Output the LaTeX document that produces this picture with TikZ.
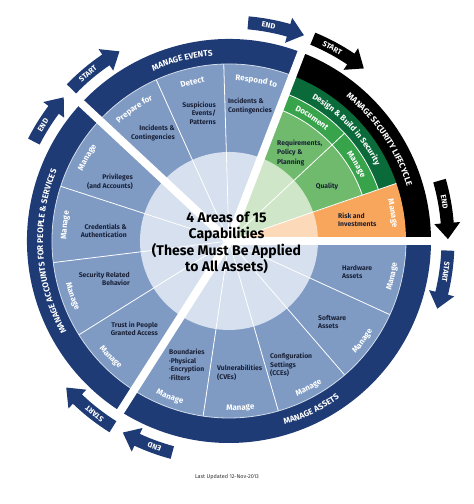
\documentclass[tikz,border=0pt]{standalone}
\usepackage{fontspec}
\setmainfont{Fira Sans}
\usetikzlibrary{decorations.text}

\definecolor{ringblue}{HTML}{1F3B75}
\definecolor{wedgeblue}{HTML}{7F9BC4}
\definecolor{centreblue}{HTML}{D6E0EE}
\definecolor{darkgreen}{HTML}{0B6A3A}
\definecolor{midgreen}{HTML}{37A34A}
\definecolor{wedgegreen}{HTML}{6FBA6C}
\definecolor{centregreen}{HTML}{CFE6C8}
\definecolor{riskorange}{HTML}{F8A65B}
\definecolor{centreorange}{HTML}{FCD9B8}
\definecolor{labelink}{HTML}{1B2238}

\newcommand\ringfont{\fontsize{8.3}{9}\selectfont\bfseries}
\newcommand\bandfont{\fontsize{8}{9}\selectfont\bfseries}

\begin{document}
\begin{tikzpicture}[%
x=1pt, y=1pt,
wedgetext/.style={font=\fontsize{6.8}{8.5}\selectfont\bfseries, text=labelink, inner sep=0pt},
arrowtext/.style={font=\fontsize{7.5}{8}\selectfont\bfseries, text=white, inner sep=0pt},
arclabel/.style={decorate, decoration={text along path, text align=center, text color=white}},
gap/.style={white, line width=8pt},
divider/.style={white, line width=0.8pt},
rim/.style={white!65!wedgeblue, line width=0.8pt},
]
\useasboundingbox (-229,-263) rectangle (245,241);
%% outer rings;
\fill [black] (0,0) -- (0:202) arc[start angle=0, end angle=69, radius=202] -- cycle;
\fill [ringblue] (0,0) -- (69:202) arc[start angle=69, end angle=360, radius=202] -- cycle;
%% blue wedges;
\fill [wedgeblue] (0,0) -- (69:177) arc[start angle=69, end angle=360, radius=177] -- cycle;
%% risk wedge;
\fill [riskorange] (0,0) -- (0:177) arc[start angle=0, end angle=19, radius=177] -- cycle;
%% green bands;
\fill [darkgreen] (0,0) -- (19:177) arc[start angle=19, end angle=69, radius=177] -- cycle;
\fill [midgreen] (0,0) -- (19:158) arc[start angle=19, end angle=69, radius=158] -- cycle;
\fill [wedgegreen] (0,0) -- (19:141) arc[start angle=19, end angle=69, radius=141] -- cycle;
%% centre disc;
\fill [centreblue] (0,0) -- (69:89) arc[start angle=69, end angle=360, radius=89] -- cycle;
\fill [centregreen] (0,0) -- (19:89) arc[start angle=19, end angle=69, radius=89] -- cycle;
\fill [centreorange] (0,0) -- (0:89) arc[start angle=0, end angle=19, radius=89] -- cycle;
%% dividers;
\foreach \a in {91.7, 114.3, 162, 187, 212, 261.6, 286.2, 310.8, 335.4, 19}
  \draw [divider] (0,0) -- (\a:177);
\draw [divider] (0,0) -- (43:158);
\draw [rim] (69:177) arc[start angle=69, end angle=360, radius=177];
\draw [divider] (19:158) arc[start angle=19, end angle=69, radius=158];
\draw [divider] (19:141) arc[start angle=19, end angle=69, radius=141];
%% gaps;
\foreach \a in {0, 69, 137, 237.5}
  \draw [gap] (0,0) -- (\a:206);
%% arrows;
\foreach \aa/\ab/\col/\txt [count=\i] in {153/139/ringblue/END, 136/120/ringblue/START, 85/70/ringblue/END, 67.5/52/black/START, 16/0.5/black/END, -2.5/-18/ringblue/START, 255/241/ringblue/END, 238/222/ringblue/START}{
  \pgfmathsetmacro\ah{\ab+4.2}
  \pgfmathsetmacro\am{(\aa+\ah)/2}
  \fill [\col] (\aa:225.5) arc[start angle=\aa, end angle=\ah, radius=225.5] -- (\ah:232) -- (\ab:219) -- (\ah:206) -- (\ah:212.5) arc[start angle=\ah, end angle=\aa, radius=212.5] -- cycle;
  \node [arrowtext, rotate=\am-90] (arrow\i) at (\am:219) {\txt};
}
%% ring labels;
\path [arclabel, decoration={text={|\ringfont|MANAGE EVENTS}}] (130:186) arc[start angle=130, end angle=79, radius=186];
\path [arclabel, decoration={text={|\ringfont|MANAGE SECURITY LIFECYCLE}}] (66:186) arc[start angle=66, end angle=2, radius=186];
\path [arclabel, decoration={text={|\ringfont|MANAGE ASSETS}}] (262:192) arc[start angle=262, end angle=330, radius=192];
\path [arclabel, decoration={text={|\ringfont|MANAGE ACCOUNTS FOR PEOPLE {\&} SERVICES}}] (226:186) arc[start angle=226, end angle=141, radius=186];
%% band labels;
\path [arclabel, decoration={text={|\bandfont|Prepare for}}] (140:160.5) arc[start angle=140, end angle=111.4, radius=160.5];
\path [arclabel, decoration={text={|\bandfont|Detect}}] (117:160.5) arc[start angle=117, end angle=89, radius=160.5];
\path [arclabel, decoration={text={|\bandfont|Respond to}}] (95:160.5) arc[start angle=95, end angle=65.6, radius=160.5];
\foreach \c in {149.5, 174.5}
  \path [arclabel, decoration={text={|\bandfont|Manage}}] ({\c+14}:162.5) arc[start angle=\c+14, end angle=\c-14, radius=162.5];
\foreach \c in {199.5, 224.5}
  \path [arclabel, decoration={text={|\bandfont|Manage}}] ({\c-14}:168.5) arc[start angle=\c-14, end angle=\c+14, radius=168.5];
\foreach \c in {249.3, 273.9, 298.5, 323.1, 347.7}
  \path [arclabel, decoration={text={|\bandfont|Manage}}] ({\c-14}:169.5) arc[start angle=\c-14, end angle=\c+14, radius=169.5];
\path [arclabel, decoration={text={|\bandfont|Design {\&} Build in Security}}] (72:165) arc[start angle=72, end angle=15, radius=165];
\path [arclabel, decoration={text={|\bandfont|Document}}] (68:146.5) arc[start angle=68, end angle=44, radius=146.5];
\path [arclabel, decoration={text={|\bandfont|Manage}}] (42:146.5) arc[start angle=42, end angle=20, radius=146.5];
\path [arclabel, decoration={text={|\bandfont|Manage}}] (20:164) arc[start angle=20, end angle=-1, radius=164];
%% wedge texts;
\node [wedgetext, anchor=east, align=right] (prepinc) at (-54,108) {Incidents \&\\Contingencies};
\node [wedgetext, anchor=east, align=right] (detsus) at (-13,128) {Suspicious\\Events/\\Patterns};
\node [wedgetext, anchor=west, align=left] (respinc) at (-1,135) {Incidents \&\\Contingencies};
\node [wedgetext, anchor=east, align=right] (privacc) at (-96,59) {Privileges\\(and Accounts)};
\node [wedgetext, anchor=east, align=right] (credauth) at (-102,10) {Credentials \&\\Authentication};
\node [wedgetext, anchor=east, align=right] (secbeh) at (-99,-38) {Security Related\\Behavior};
\node [wedgetext, anchor=east, align=right] (trustacc) at (-71,-88) {Trust in People\\Granted Access};
\node [wedgetext, anchor=west, align=left] (bounds) at (-60,-124) {Boundaries\\·Physical\\·Encryption\\·Filters};
\node [wedgetext, anchor=west, align=left] (vulncve) at (-12,-132) {Vulnerabilities\\(CVEs)};
\node [wedgetext, anchor=west, align=left] (configcce) at (41,-124) {Configuration\\Settings\\(CCEs)};
\node [wedgetext, anchor=west, align=left] (softass) at (89,-81) {Software\\Assets};
\node [wedgetext, anchor=west, align=left] (hardass) at (113,-31) {Hardware\\Assets};
\node [wedgetext, anchor=west, align=left, font=\fontsize{6.8}{9.5}\selectfont\bfseries] (reqpol) at (48,88.5) {Requirements,\\Policy \&\\Planning};
\node [wedgetext] (quality) at (98,55) {Quality};
\node [wedgetext, anchor=west, align=left] (riskinv) at (109,21) {Risk and\\Investments};
%% centre;
\node [font=\fontsize{14}{16.5}\selectfont\bfseries, align=center, text=black, inner sep=0pt] (centretitle) at (-2.5,-2) {4 Areas of 15\\Capabilities\\(These Must Be Applied\\to All Assets)};
\node [font=\fontsize{5.5}{6}\selectfont, text=black!80, inner sep=0pt] (lastupdate) at (-2,-236) {Last Updated 12-Nov-2013};
\end{tikzpicture}
\end{document}
